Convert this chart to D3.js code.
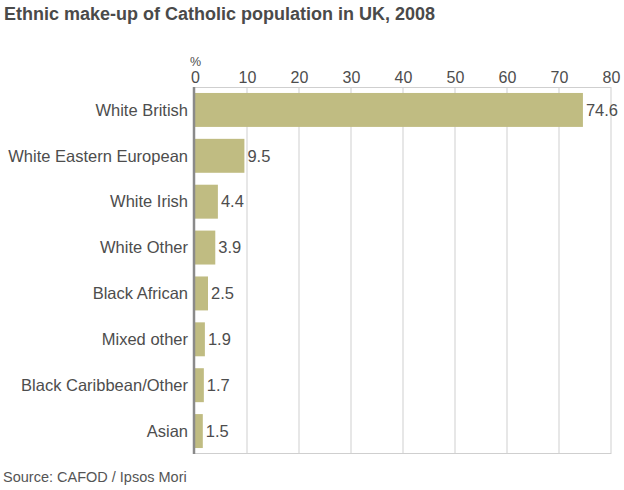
<!DOCTYPE html>
<html>
<head>
<meta charset="utf-8">
<script src="https://cdn.jsdelivr.net/npm/d3@7"></script>
<style>
  body { margin: 0; background: #fff; }
  svg { display: block; font-family: "Liberation Sans", Arial, sans-serif; }
</style>
</head>
<body>
<svg id="chart" width="624" height="490"></svg>
<script>
const categories = ['White British', 'White Eastern European', 'White Irish', 'White Other',
  'Black African', 'Mixed other', 'Black Caribbean/Other', 'Asian']
const values = [74.6, 9.5, 4.4, 3.9, 2.5, 1.9, 1.7, 1.5]
const ticks = [0, 10, 20, 30, 40, 50, 60, 70, 80]

const svg = d3.select('#chart')
const plot = { left: 195, right: 611, top: 87, bottom: 454 }
const textColor = '#4d4d4d'

const x = d3.scaleLinear().domain([0, 80]).range([plot.left, plot.right])
const y = d3.scaleBand().domain(categories).range([plot.top, plot.bottom]).paddingInner(0.26).paddingOuter(0.13)

svg.append('text')
  .attr('x', 4).attr('y', 20)
  .attr('font-size', 18).attr('font-weight', 'bold')
  .attr('fill', '#4a4a4a')
  .text('Ethnic make-up of Catholic population in UK, 2008')

// grid
svg.append('g')
  .selectAll('line')
  .data(ticks.slice(1))
  .join('line')
  .attr('x1', d => x(d)).attr('x2', d => x(d))
  .attr('y1', plot.top).attr('y2', plot.bottom)
  .attr('stroke', '#cfcfcf').attr('stroke-width', 1)

svg.append('line')
  .attr('x1', plot.left).attr('x2', plot.right).attr('y1', plot.top + 0.5).attr('y2', plot.top + 0.5)
  .attr('stroke', '#cfcfcf')
svg.append('line')
  .attr('x1', plot.left).attr('x2', plot.right).attr('y1', plot.bottom - 0.5).attr('y2', plot.bottom - 0.5)
  .attr('stroke', '#cfcfcf')

// axis labels
const xAxis = d3.axisTop(x).tickValues(ticks).tickSize(0).tickPadding(5)
const gx = svg.append('g').attr('transform', `translate(0,${plot.top})`).call(xAxis)
gx.select('.domain').remove()
gx.selectAll('text')
  .attr('font-family', '"Liberation Sans", Arial, sans-serif')
  .attr('font-size', 16).attr('fill', textColor)
  .attr('dy', 0)
  .attr('y', -4)

svg.append('text')
  .attr('x', 190).attr('y', 66)
  .attr('font-size', 12.5).attr('fill', textColor)
  .text('%')

// bars
svg.append('g')
  .selectAll('rect')
  .data(values)
  .join('rect')
  .attr('x', plot.left)
  .attr('y', (d, i) => y(categories[i]))
  .attr('width', d => x(d) - plot.left)
  .attr('height', y.bandwidth())
  .attr('fill', '#c0bc82')

// value labels
svg.append('g')
  .selectAll('text')
  .data(values)
  .join('text')
  .attr('x', d => x(d) + 3)
  .attr('y', (d, i) => y(categories[i]) + y.bandwidth() / 2)
  .attr('dy', '0.35em')
  .attr('font-size', 16.5).attr('fill', textColor)
  .text(d => d.toFixed(1))

// category labels
svg.append('g')
  .selectAll('text')
  .data(categories)
  .join('text')
  .attr('x', plot.left - 7)
  .attr('y', d => y(d) + y.bandwidth() / 2)
  .attr('dy', '0.35em')
  .attr('text-anchor', 'end')
  .attr('font-size', 16.5).attr('fill', textColor)
  .text(d => d)

// left axis line
svg.append('line')
  .attr('x1', plot.left - 1).attr('x2', plot.left - 1).attr('y1', plot.top).attr('y2', plot.bottom)
  .attr('stroke', '#8a8a8a').attr('stroke-width', 2.5)

svg.append('text')
  .attr('x', 3).attr('y', 482)
  .attr('font-size', 14.5).attr('fill', '#555')
  .text('Source: CAFOD / Ipsos Mori')
</script>
</body>
</html>
